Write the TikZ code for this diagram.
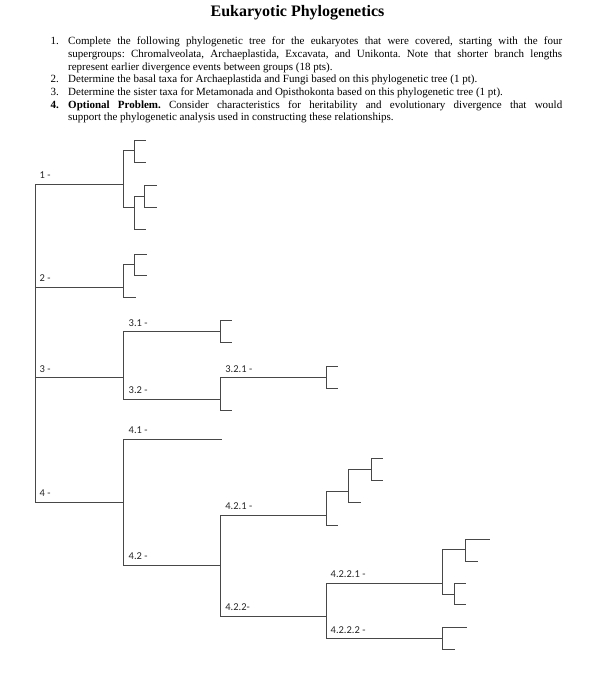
\documentclass[tikz,border=0pt]{standalone}
\usepackage{fontspec}
\setmainfont{Liberation Serif}
\newfontfamily\labfont{Carlito}
\newcommand{\qsetup}{\hyphenpenalty=10000 \hbadness=10000 \frenchspacing}
\begin{document}
\begin{tikzpicture}[x=1pt,y=-1pt,
  br/.style={draw=black!72, line width=1.5pt},
  lab/.style={font=\labfont\fontsize{10.5}{12}\selectfont, inner sep=0pt, anchor=base west, text=black!85},
  numtxt/.style={font=\fontsize{11}{12.65}\selectfont, inner sep=0pt, anchor=base west},
  itemtxt/.style={font=\fontsize{11}{12.65}\selectfont, inner sep=0pt, anchor=base west, text width=494pt, align=justify}]
\useasboundingbox (0,0) rectangle (595,700);
\fill[white] (0,0) rectangle (595,700);
% title and questions
\node[anchor=base, inner sep=0pt, font=\bfseries\fontsize{16}{19}\selectfont] (title) at (297.5,17) {Eukaryotic Phylogenetics};
\node[numtxt] (n1t) at (50.5,45) {1.};
\node[itemtxt] (q1) at (68,45) {\qsetup Complete the following phylogenetic tree for the eukaryotes that were covered, starting with the four\linebreak supergroups: Chromalveolata, Archaeplastida, Excavata, and Unikonta. Note that shorter branch lengths\linebreak represent earlier divergence events between groups (18 pts).};
\node[numtxt] (n2t) at (50.5,82.95) {2.};
\node[itemtxt] (q2) at (68,82.95) {\qsetup Determine the basal taxa for Archaeplastida and Fungi based on this phylogenetic tree (1 pt).};
\node[numtxt] (n3t) at (50.5,95.6) {3.};
\node[itemtxt] (q3) at (68,95.6) {\qsetup Determine the sister taxa for Metamonada and Opisthokonta based on this phylogenetic tree (1 pt).};
\node[numtxt] (n4t) at (50.5,108.25) {\textbf{4.}};
\node[itemtxt] (q4) at (68,108.25) {\qsetup\textbf{Optional Problem.} Consider characteristics for heritability and evolutionary divergence that would\linebreak support the phylogenetic analysis used in constructing these relationships.};
% tree coordinates
\coordinate (r) at (35.5,343);
\coordinate (c1) at (123.5,184.5);
\coordinate (c2) at (123.5,287.5);
\coordinate (c3) at (123.5,377.5);
\coordinate (c4) at (123.5,502.5);
% clade 1
\coordinate (c11) at (134.5,150.5);
\coordinate (c12) at (134.5,207.5);
\coordinate (c11a) at (145.5,140.5);
\coordinate (c11b) at (145.5,162.5);
\coordinate (c121) at (144.5,196.5);
\coordinate (c12b) at (145.5,229.5);
\coordinate (c121a) at (156.5,185.5);
\coordinate (c121b) at (156.5,207.5);
% clade 2
\coordinate (c21) at (134.5,264.5);
\coordinate (c2b) at (135.5,297.5);
\coordinate (c21a) at (146.5,254.5);
\coordinate (c21b) at (146.5,275.5);
% clade 3
\coordinate (c31) at (220.5,331.5);
\coordinate (c32) at (220.5,399.5);
\coordinate (c31a) at (231.5,320.5);
\coordinate (c31b) at (231.5,342.5);
\coordinate (c321) at (326.5,377.5);
\coordinate (c32b) at (231.5,410.5);
\coordinate (c321a) at (337.5,366.5);
\coordinate (c321b) at (337.5,388.5);
% clade 4
\coordinate (c41) at (221.5,439.5);
\coordinate (c42) at (220.5,565.5);
\coordinate (c421) at (326.5,515.5);
\coordinate (c422) at (326.5,616.5);
\coordinate (c4211) at (348.5,491.5);
\coordinate (c421b) at (337.5,525.5);
\coordinate (c42111) at (371.5,469.5);
\coordinate (c4211b) at (360.5,502.5);
\coordinate (c42111a) at (382.5,458.5);
\coordinate (c42111b) at (382.5,480.5);
\coordinate (c4221) at (442.5,583.5);
\coordinate (c4222) at (442.5,638.5);
\coordinate (c42211) at (465.5,549.5);
\coordinate (c42212) at (454.5,594.5);
\coordinate (c42211a) at (489.5,539.5);
\coordinate (c42211b) at (477.5,561.5);
\coordinate (c42212a) at (465.5,583.5);
\coordinate (c42212b) at (465.5,604.5);
\coordinate (c4222a) at (466.5,627.5);
\coordinate (c4222b) at (454.5,649.5);
% branches: top child -| parent |- bottom child
\draw[br] (c1) -| (r) |- (c4);
\draw[br] (c2) -- (r |- c2);
\draw[br] (c3) -- (r |- c3);
\foreach \a/\p/\b in {c11/c1/c12, c11a/c11/c11b, c121/c12/c12b, c121a/c121/c121b,
  c21/c2/c2b, c21a/c21/c21b,
  c31/c3/c32, c31a/c31/c31b, c321/c32/c32b, c321a/c321/c321b,
  c41/c4/c42, c421/c42/c422, c4211/c421/c421b, c42111/c4211/c4211b,
  c42111a/c42111/c42111b, c4221/c422/c4222, c42211/c4221/c42212,
  c42211a/c42211/c42211b, c42212a/c42212/c42212b, c4222a/c4222/c4222b}
  {\draw[br] (\a) -| (\p) |- (\b);}
% labels
\node[lab] (l1) at (39.5,178.8) {1 -};
\node[lab] (l2) at (39.5,281.5) {2 -};
\node[lab] (l3) at (39.5,372.2) {3 -};
\node[lab] (l4) at (39.5,496.5) {4 -};
\node[lab] (l31) at (128.5,326.2) {3.1 -};
\node[lab] (l32) at (128.5,393.8) {3.2 -};
\node[lab] (l321) at (225.2,372.2) {3.2.1 -};
\node[lab] (l41) at (128.5,433.5) {4.1 -};
\node[lab] (l42) at (128.5,559.5) {4.2 -};
\node[lab] (l421) at (225.2,509.5) {4.2.1 -};
\node[lab] (l422) at (225.2,610.8) {4.2.2-};
\node[lab] (l4221) at (330.5,577.8) {4.2.2.1 -};
\node[lab] (l4222) at (330.5,633.2) {4.2.2.2 -};
\end{tikzpicture}
\end{document}
